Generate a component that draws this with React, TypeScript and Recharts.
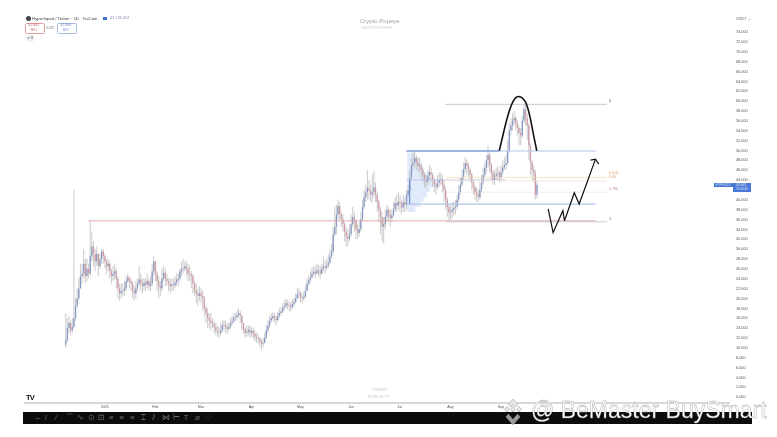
import React from 'react';
import { ComposedChart, Bar, Line, XAxis, YAxis, ReferenceLine, ReferenceArea } from 'recharts';

const closes = [
  11.5,14,15,13.5,14.2,16,18.5,20,22,24.5,
  25,27,24.5,26,25,28.5,30.5,29,27.5,29,
  26.5,28,29.5,28.5,27.5,26.5,27,25.5,24.5,25,
  25.5,24,22,21,21.5,21.5,22,23.5,24.2,23.5,
  23,21.5,21,22,23,23.8,23,22.5,23.2,22.8,
  23.5,22.5,23,25.5,27.5,25,23.5,22.5,22,24,
  25.2,24,23.5,23,22.5,22.8,22.6,23.2,23.8,24,
  25.5,26,26,26.5,26,25,24.8,24.5,23,21.5,
  21,20.5,21,20.5,20,18,17,16,15.5,15,
  14.8,14.2,13.5,13.2,13,13.5,14.5,14.6,14.2,13.8,
  14.2,15,15.3,16,16.2,16.6,17,16.5,15,13.8,
  13,13.2,13.6,13,13.4,12.8,12.2,12,11.8,11.2,
  10.8,11,12,13.5,14.5,15.5,16,16.4,15.8,15.6,
  16.5,17,17.3,18,18.4,19,18.7,18.5,18.2,18.8,
  19.2,20,20.8,21,20.2,20,20.3,21.5,23,23.7,
  24.2,25,25.4,25,25.7,25.6,25,26,26.5,26.2,
  26.6,27.2,28.5,29.5,33,34.5,37,38.7,37,36,
  35,33.5,32.5,32,33,35,36.5,35.8,34,33.2,
  34,36,38.5,40.5,41.5,42.3,41.8,41,41.5,42.5,
  41,39.5,38,36.5,34.5,35,36.5,37.9,37,36.2,
  36.8,38,39.3,38.8,39.5,39.2,38.4,39.5,38.9,41,
  41.8,44.5,47,47.5,48.4,47.5,46.8,47,46,45,
  44,43.6,44.8,45.6,45,44,43,42.6,43.4,44,
  44.2,43,42,40,38.5,37.4,37.5,38,38.3,38.6,
  40,41.5,43,44.5,46.2,47.4,46.8,46,45,43.5,
  42.5,41.5,41,40.5,42,43.5,45,46.4,48,49,
  47,45.5,44,44.8,45.2,45.4,44.5,45.6,46.5,47,
  47.4,50,54,55,56,56.5,55.5,54.5,53.5,53,
  56,58.3,56.5,55,51,47.5,46,45.4,41,43,
];
const highs = [
  17,16,16.5,15.5,16,42,20,22,24,27,
  27,30,28,28,27,35.7,33.5,31.5,30,30.5,
  29.2,29,30,30,29,28,28,27.5,26,26.5,
  27,26,24.5,23,23,23,23.5,24.5,25,24.5,
  24,23.5,22.5,23.5,24,26.5,25,24,24,24,
  25,24,24.5,27,28.5,27.5,25.5,24.5,23.5,26,
  26.5,26,25,24,24,24,24,24.5,25,25,
  26,27.5,28,27.5,27.5,27,26.5,25.5,25,23.5,
  23,22,22.5,22,21.5,20.5,18.5,18,17,17,
  16,15.5,15,14.5,14.2,15,15.5,15.5,15.5,15,
  15,16,16.4,17,17,17.5,18,17.5,16.5,15,
  14,14.5,14.5,14.5,14.2,14,13.5,13,12.8,12.2,
  11.8,12,13,14.5,15.5,16.5,17,17.2,17,16.5,
  17.3,18,18.2,19,19.5,20,19.7,19.5,19.3,19.8,
  20,21,22,22.2,21.5,21,21.5,22.5,24,24.5,
  25.5,26.2,26.5,26.5,27,26.8,26.5,27,28.5,27.5,
  28,29,30,31,34.5,38.5,39,40,39.5,37.5,
  37,35.5,34.5,34,35,37,38.5,37.5,36,35,
  35.5,37.5,40,42,43,46,44,43,45,45.7,
  43.5,41.5,40,38.5,37.5,36.5,38,39,38.5,38,
  38,39.5,40.5,41,41.5,41,40,41,40.5,42,
  43,46,48.5,49.6,50,49,48.5,48.5,47.5,46.5,
  45.5,45,46,47,46.5,45.5,44.5,44,45,45.5,
  45.5,45,44,42.5,40.5,39,38.8,39.5,39.5,40,
  41,43,44.5,46,47.5,48.6,48.2,47.5,46.5,45.5,
  44,43,42.5,42,43.5,45,46.5,47.5,49,51,
  49.5,47.5,46,46,46.5,46.8,46,47,48,48.5,
  49,52,55.5,56.5,57.5,58,57,56,55,54.5,
  57,59,59.2,57.5,55.5,51.5,48,47,46,43.8,
];
const lows = [
  10,11,13,12.5,13,14,15.5,18,19.5,22,
  23,24,23,23.5,24,24.5,27.5,26.5,25.5,26.5,
  24.5,26,27,27,26,25,25.5,24,23,23.5,
  23.8,22,20,19.5,20,20.5,20.5,21.5,23,22,
  21.5,20,19.5,20,21.5,22.5,21.5,21,21.5,21.5,
  22,21.5,21.5,22.5,24.5,23.5,21.5,20,20.5,21.5,
  23.5,22.5,22.5,21.5,21,21.5,21.5,22,22.5,22.5,
  23.5,24.5,25,25.5,24.5,23.5,23.5,22,21,20.5,
  19,18.5,19.5,19,17.5,16.5,15,14,14,13.5,
  14,13,12.5,12.2,12,12.5,13,13.5,13,12.8,
  13.3,13.8,14.5,15,15.5,15.5,16,15,13.5,12.8,
  12,12.2,12.5,12,12.2,11.8,11.2,11,10.8,10.2,
  9.5,10,10.8,11.8,13,14,15,15.5,15,14.5,
  15.3,16,16.5,17,17.5,18,17.8,17.5,17.3,17.8,
  18.3,19,20,20,19.2,19,19.5,20,21.5,22.5,
  23,24,24.5,24,24.8,24.5,24,24.8,25.5,25,
  25.5,26,27,28,29,32.5,33,36,36,34.5,
  33.5,31.5,30.5,30.5,31.5,32.5,34.5,33.5,32,32,
  32.5,33.5,35.5,38,39.5,40,40,39.5,39.5,40.5,
  39.5,37.5,35.5,33,31.5,31,34,35.5,35.5,34.5,
  35.5,36.5,37.5,37.5,38,37.5,37,37.5,37.5,38,
  40.5,41.5,44,46,46.5,46,45.5,45.5,44.5,43.5,
  42.5,42,43,44,43.5,42.5,41.5,41,42,42.5,
  43,41.5,39.5,38,36.5,35.8,35.7,36.2,36.8,37,
  38,39.5,41,42.5,44,45.5,45,44.5,43.5,42,
  41,40,39.5,39.5,40,41.5,43,44.5,45.5,46.5,
  45.5,44,43,43,44,44,43.5,44,45,46,
  46,47,49.5,53,54,55,54,53,51,51,
  52.5,55.5,55,52,48,45,44,43.5,40,40.2,
];
const firstOpen = 10.5;
const candleOffset = 25;
const slotCount = 433;

const archPoints: [number, number][] = [[291,49.9],[294,54.1],[297,57.8],[300,60.2],[303,60.9],[307,59.8],[310,56.5],[312,53.1],[314,49.9]];
const zigzagPoints: [number, number][] = [[321,38.1],[324,33.3],[330,37.75],[331,35.7],[337,41.4],[340,39.1],[350,48.2]];
const arrowPoints: [number, number][] = [[347,48],[350,48.2],[352,47.2]];

const profileRows: [number, number, number][] = [
  [49.5,48.5,4],[48.5,47.5,6],[47.5,46.5,7],[46.5,45.5,9],[45.5,44.5,11],[44.5,43.5,14],
  [43.5,42.5,15],[42.5,41.5,13],[41.5,40.5,11],[40.5,39.5,9],[39.5,38.5,7],[38.5,37.5,4],
];

const yTicks = [0,2,4,6,8,10,12,14,16,18,20,22,24,26,28,30,32,34,36,38,40,44,46,48,50,52,54,56,58,60,62,64,66,68,70,72,74];
const monthTicks = [49,80,108,139,169,200,230,261,292];
const monthLabels = ['2025','Feb','Mar','Apr','May','Jun','Jul','Aug','Sep'];

const pick = (pts: [number, number][], i: number) => {
  const hit = pts.find((p) => p[0] === i);
  return hit ? hit[1] : null;
};

const rows = Array.from({ length: slotCount }, (_, i) => {
  const k = i - candleOffset;
  const has = k >= 0 && k < closes.length;
  const open = has ? (k === 0 ? firstOpen : closes[k - 1]) : null;
  return {
    i,
    open,
    close: has ? closes[k] : null,
    high: has ? highs[k] : null,
    low: has ? lows[k] : null,
    range: has ? [lows[k], highs[k]] : null,
    arch: pick(archPoints, i),
    zigzag: pick(zigzagPoints, i),
    arrow: pick(arrowPoints, i),
  };
});

const Candle = (props: any) => {
  const { x, y, width, height, payload } = props;
  if (!payload || payload.close == null || !(height > 0)) return null;
  const { open, close, high, low } = payload;
  const cx = x + width / 2;
  const per = height / (high - low);
  const top = y + (high - Math.max(open, close)) * per;
  const h = Math.max(Math.abs(open - close) * per, 0.6);
  const up = close >= open;
  return (
    <g>
      <line x1={cx} x2={cx} y1={y} y2={y + height} stroke="#bcbcc0" strokeWidth={0.8} />
      <rect x={cx - 0.65} y={top} width={1.3} height={h} fill={up ? '#8597c2' : '#d09aa2'} />
    </g>
  );
};

const segLine = (a: number, b: number, p: number, stroke: string, width: number, dash?: string) => (
  <ReferenceLine
    key={`${a}-${b}-${p}`}
    segment={[{ x: a, y: p }, { x: b, y: p }]}
    stroke={stroke}
    strokeWidth={width}
    strokeDasharray={dash}
    ifOverflow="visible"
  />
);

const sans = '"Liberation Sans", Arial, sans-serif';
const txt = (x: number, y: number, s: string, size: number, color: string, extra: any = {}) => (
  <div
    key={`${s}-${x}-${y}`}
    style={{ position: 'absolute', left: x, top: y, fontSize: size, lineHeight: 1, color, fontFamily: sans, whiteSpace: 'nowrap', ...extra }}
  >
    {s}
  </div>
);

const toolIcons = ['←','/','∕','⌒','∿','⊙','⊡','≡','≡','≡','⌶','⫽','⋈','⊢','T','⌀','⁘'];

export default function App() {
  return (
    <div style={{ position: 'absolute', left: 0, top: 0, width: 777, height: 437, background: '#fff', overflow: 'hidden' }}>
      <div style={{ position: 'absolute', left: 0, top: 0, width: 777, height: 437, filter: 'blur(0.55px)' }}>
        <ComposedChart width={777} height={437} data={rows} margin={{ top: 28, right: 0, bottom: 0, left: 24 }} barCategoryGap={0}>
          <XAxis
            dataKey="i"
            height={34}
            ticks={monthTicks}
            interval={0}
            tickFormatter={(v: number) => monthLabels[monthTicks.indexOf(v)] ?? ''}
            tick={{ fontSize: 3.6, fill: '#555', fontFamily: sans }}
            tickLine={false}
            tickSize={0}
            tickMargin={2.5}
            axisLine={{ stroke: '#b0b0b0', strokeWidth: 1 }}
          />
          <YAxis
            orientation="right"
            width={47}
            domain={[-1.216, 74.77]}
            allowDataOverflow
            ticks={yTicks}
            interval={0}
            tickFormatter={(v: number) => v.toFixed(3)}
            tick={{ fontSize: 3.8, fill: '#555', fontFamily: sans, textAnchor: 'start' }}
            tickLine={false}
            tickSize={0}
            tickMargin={6}
            axisLine={false}
          />
          {profileRows.map(([a, b, w]) => (
            <ReferenceArea key={a} x1={235} x2={235 + w} y1={a} y2={b} fill="#d6e3f8" fillOpacity={0.75} stroke="none" ifOverflow="visible" />
          ))}
          {segLine(39, 350, 35.7, '#e3a4a4', 0.9)}
          {segLine(234, 291, 49.85, '#7d9edb', 1.6)}
          {segLine(291, 350, 49.85, '#b3c6ea', 1.2)}
          {segLine(234, 350, 39.1, '#b3c6ea', 1.2)}
          {segLine(234, 295, 44, '#a9bfe6', 0.7)}
          {segLine(258, 357, 44.5, '#f0d9b4', 0.7)}
          {segLine(258, 357, 43.8, '#f3e2c6', 0.7)}
          {segLine(258, 357, 41.5, '#e8bcc4', 0.7, '1 1')}
          {segLine(258, 357, 59.3, '#666', 0.7, '1 1')}
          {segLine(258, 357, 35.5, '#777', 0.7, '1 1')}
          <ReferenceLine segment={[{ x: 236, y: 44 }, { x: 236, y: 39.1 }]} stroke="#6a90d8" strokeWidth={1.2} ifOverflow="visible" />
          <Bar dataKey="range" isAnimationActive={false} shape={Candle} />
          <Line dataKey="arch" type="natural" stroke="#111" strokeWidth={1.6} dot={false} connectNulls isAnimationActive={false} />
          <Line dataKey="zigzag" type="linear" stroke="#111" strokeWidth={1.2} dot={false} connectNulls isAnimationActive={false} />
          <Line dataKey="arrow" type="linear" stroke="#111" strokeWidth={1.2} dot={false} connectNulls isAnimationActive={false} />
        </ComposedChart>

        {/* header */}
        <div style={{ position: 'absolute', left: 26, top: 16, width: 4.5, height: 4.5, borderRadius: 3, background: '#444' }} />
        {txt(32, 16.5, 'Hyperliquid / Tether · 1D · KuCoin', 4.4, '#444')}
        <div style={{ position: 'absolute', left: 103, top: 16.5, width: 3.5, height: 3.5, background: '#3f6fd0' }} />
        {txt(110, 17, '43.138.424', 3.8, '#8a94a8')}
        <div style={{ position: 'absolute', left: 25, top: 23, width: 18, height: 9, border: '0.7px solid #e0a0a0', borderRadius: 1.5 }} />
        {txt(28.5, 24, '42.882', 3.5, '#d07070')}
        {txt(30.5, 28.5, 'SELL', 2.8, '#d07070')}
        {txt(46, 26.5, '0.037', 3.4, '#777')}
        <div style={{ position: 'absolute', left: 57, top: 23, width: 18, height: 9, border: '0.7px solid #a8bce0', borderRadius: 1.5 }} />
        {txt(60.5, 24, '42.983', 3.5, '#6a8ad0')}
        {txt(63, 28.5, 'BUY', 2.8, '#6a8ad0')}
        <div style={{ position: 'absolute', left: 26, top: 35, width: 8, height: 7, background: '#f2f2f2', borderRadius: 2 }} />
        {txt(27, 36, '∨ 8', 4, '#555')}

        {/* title and stamp */}
        {txt(360, 18, 'Crypto Popeye', 6, '#a0a0a0')}
        {txt(362, 27, '@CRYPTOPOPEYE', 3.2, '#c4c4cc')}
        {txt(372, 389, '27/8/2025', 3.4, '#c0c0c0')}
        {txt(368, 396, 'HYPEUSDT.P', 3.4, '#c8c8cc')}
        {txt(26, 394, 'TV', 7.5, '#111', { fontWeight: 900, letterSpacing: -0.8 })}

        {/* fib labels */}
        {txt(609, 99, '0', 4, '#555')}
        {txt(609, 217, '1', 4, '#555')}
        {txt(609, 172, '0.618', 3.6, '#d8a070')}
        {txt(609, 176, '0.65', 3.6, '#d8a070')}
        {txt(609, 187.5, '0.786', 3.6, '#cf8a98')}

        {/* price scale */}
        {txt(736, 16.5, 'USDT  ⌄', 4, '#666')}
        <div style={{ position: 'absolute', left: 714, top: 183, width: 19, height: 4, background: '#3f6fd0' }} />
        {txt(715, 183.5, 'HYPEUSDT', 3, '#dfe8ff')}
        <div style={{ position: 'absolute', left: 733, top: 183, width: 18, height: 9, background: '#4a78d8' }} />
        {txt(736, 183.6, '43.041', 3.4, '#e8f0ff')}
        {txt(736, 187.6, '23:14:26', 3, '#e8f0ff')}
      </div>

      {/* toolbar */}
      <div style={{ position: 'absolute', left: 23, top: 411.5, width: 729, height: 12.5, background: '#0c0c0c' }} />
      {toolIcons.map((g, n) => txt(34 + n * 10.7, 414, g, 7.5, '#6f6f6f', { filter: 'grayscale(1) blur(0.4px)' }))}

      {/* watermark */}
      <svg width={26} height={28} viewBox="0 0 28 26" preserveAspectRatio="none" style={{ position: 'absolute', left: 499.5, top: 397.5, filter: 'blur(0.4px)' }}>
        <g fill="#e8e8e8" stroke="#a0a0a0" strokeWidth={0.6}>
          <polygon points="14,1 19,6 16.5,8.5 14,6 11.5,8.5 9,6" />
          <polygon points="5,10.5 7.5,8 10,10.5 7.5,13" />
          <polygon points="23,10.5 20.5,8 18,10.5 20.5,13" />
          <polygon points="14,8 16.5,10.5 14,13 11.5,10.5" />
          <polygon points="14,20 19,15 21.5,17.5 14,25 6.5,17.5 9,15" fill="#9a9a9a" />
        </g>
      </svg>
      <div style={{ position: 'absolute', left: 531, top: 396, width: 238, height: 28, overflow: 'hidden', filter: 'blur(0.3px)' }}>
        <div style={{ position: 'absolute', left: 0, top: 2, fontSize: 23, lineHeight: 1, fontFamily: sans, color: '#fff', whiteSpace: 'nowrap', WebkitTextStroke: '0.35px #999', transform: 'scaleY(1.08)' }}>
          @ BeMaster BuySmart
        </div>
      </div>
    </div>
  );
}
